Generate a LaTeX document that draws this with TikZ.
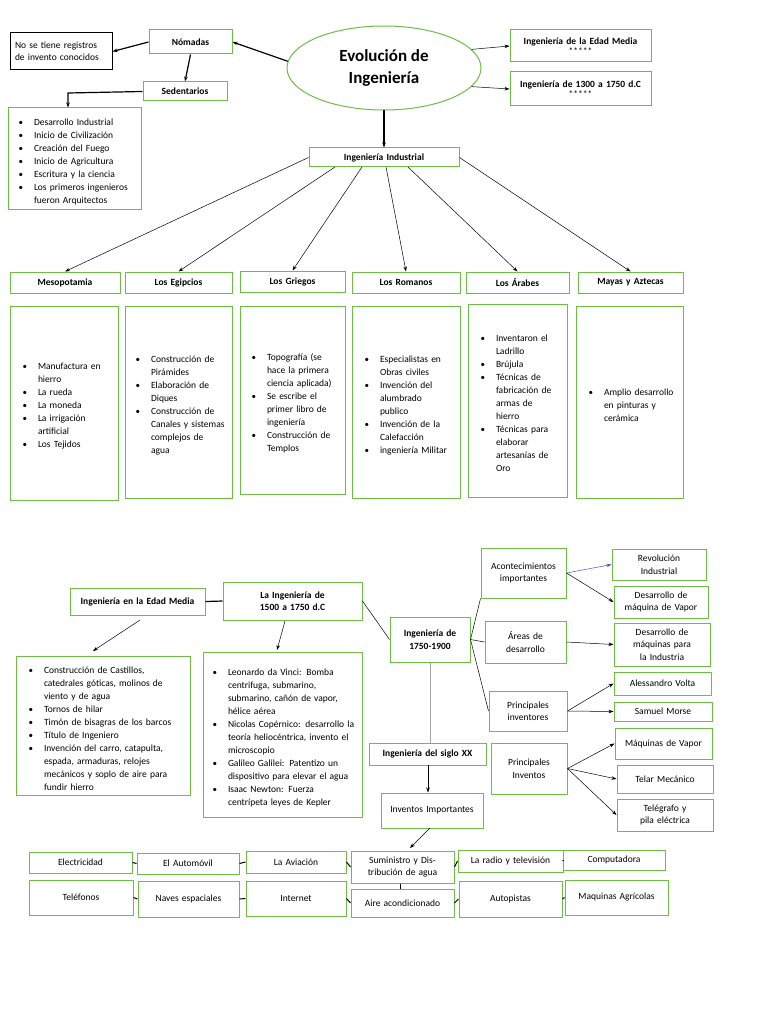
\documentclass[tikz,border=0pt]{standalone}
\usepackage{fontspec}
\setmainfont{Carlito}
\usepackage{enumitem}
\setlist[itemize]{nosep,leftmargin=19pt,labelsep=11pt,label={\small\textbullet}}
\usetikzlibrary{arrows.meta,shapes.geometric}
\definecolor{gb}{RGB}{110,190,70}
\tikzset{
 box/.style={draw=gb,line width=1pt,inner sep=3pt,align=center,font=\fontsize{9.5}{12.5}\selectfont},
 bbox/.style={box,font=\bfseries\fontsize{9.5}{12.5}\selectfont},
 lbox/.style={box,align=left,inner sep=4pt,font=\fontsize{9.5}{13}\selectfont},
 ar/.style={-{Stealth[length=5pt,width=3.5pt]},line width=0.5pt},
 tar/.style={ar,line width=1.2pt},
 ln/.style={line width=0.5pt},
}
\newcommand\bx[8]{%
 \pgfmathsetmacro\tw{#5-#3-#8}%
 \node[#1,minimum width={(#5-#3)*1pt},minimum height={(#6-#4)*1pt},text width=\tw pt] (#2) at ({(#3+#5)/2},{(#4+#6)/2}) {\hyphenpenalty=10000\exhyphenpenalty=10000#7};}
\newcommand\ls[1]{\raggedright\begin{itemize}#1\end{itemize}}
\begin{document}
\begin{tikzpicture}[x=1pt,y=-1pt]
\useasboundingbox (0,0) rectangle (768,1024);
\fill[white] (0,0) rectangle (768,1024);
% top
\bx{box,draw=black,align=left}{noreg}{10}{33}{112}{70}{No se tiene registros de invento conocidos}{10}
\bx{bbox}{nom}{149}{30}{232}{54}{Nómadas}{8}
\bx{bbox}{sed}{143}{82}{227}{101}{Sedentarios}{8}
\bx{lbox}{sedl}{8}{108}{141}{210}{\ls{\item Desarrollo Industrial\item Inicio de Civilización\item Creación del Fuego\item Inicio de Agricultura\item Escritura y la ciencia\item Los primeros ingenieros fueron Arquitectos}}{14}
\node[ellipse,draw=gb,line width=1pt,minimum width=194pt,minimum height=84pt,align=center,font=\bfseries\fontsize{17}{22}\selectfont] (ev) at (384,68) {Evolución de\\Ingeniería};
\bx{bbox}{em}{510}{30}{651}{62}{Ingeniería de la Edad Media\\[-3pt]\normalfont *****}{8}
\bx{bbox}{m13}{510}{72}{651}{106}{Ingeniería de 1300 a 1750 d.C\\[-3pt]\normalfont *****}{8}
\bx{bbox}{ind}{309}{148}{459}{167}{Ingeniería Industrial}{8}
\bx{bbox}{h1}{10}{272}{120}{293}{Mesopotamia}{8}
\bx{bbox}{h2}{125}{272}{232}{293}{Los Egipcios}{8}
\bx{bbox}{h3}{240}{271}{345}{292}{Los Griegos}{8}
\bx{bbox}{h4}{352}{272}{460}{293}{Los Romanos}{8}
\bx{bbox}{h5}{466}{272}{569}{293}{Los Árabes}{8}
\bx{bbox}{h6}{578}{272}{683}{293}{Mayas y Aztecas}{8}
\bx{lbox}{l1}{10}{306}{118}{500}{\ls{\item Manufactura en hierro\item La rueda\item La moneda\item La irrigación artificial\item Los Tejidos}}{18}
\bx{lbox}{l2}{125}{306}{232}{498}{\ls{\item Construcción de Pirámides\item Elaboración de Diques\item Construcción de Canales y sistemas complejos de agua}}{14}
\bx{lbox}{l3}{240}{306}{345}{494}{\ls{\item Topografía (se hace la primera ciencia aplicada)\item Se escribe el primer libro de ingeniería\item Construcción de Templos}}{16}
\bx{lbox}{l4}{352}{306}{460}{498}{\ls{\item Especialistas en Obras civiles\item Invención del alumbrado publico\item Invención de la Calefacción\item ingeniería Militar}}{18}
\bx{lbox}{l5}{468}{304}{567}{497}{\ls{\item Inventaron el Ladrillo\item Brújula\item Técnicas de fabricación de armas de hierro\item Técnicas para elaborar artesanías de Oro}}{18}
\bx{lbox}{l6}{576}{306}{683}{498}{\ls{\item Amplio desarrollo en pinturas y cerámica}}{18}
% top edges
\draw[tar] (ev.176) -- (nom.east);
\draw[tar] (nom.west) -- (noreg.east);
\draw[tar] (nom.south) -- (sed.north);
\draw[tar] (sed.west) -- (68,93) -- (sedl.north -| 68,0);
\draw[ar] (ev.12) -- (em.west);
\draw[ar] (ev.-12) -- (m13.west);
\draw[tar] (ev.south) -- (ind.north);
\draw[ar] (ind.west) -- (h1.north);
\draw[ar] (335,167) -- (h2.north);
\draw[ar] (362,167) -- (h3.north);
\draw[ar] (386,167) -- (h4.north);
\draw[ar] (408,167) -- (h5.north);
\draw[ar] (ind.east) -- (h6.north);
% bottom
\bx{bbox}{emd}{70}{588}{205}{615}{Ingeniería en la Edad Media}{8}
\bx{bbox}{q15}{223}{582}{362}{620}{La Ingeniería de 1500 a 1750 d.C}{14}
\bx{lbox}{eml}{16}{657}{190}{795}{\ls{\item Construcción de Castillos, catedrales góticas, molinos de viento y de agua\item Tornos de hilar\item Timón de bisagras de los barcos\item Título de Ingeniero\item Invención del carro, catapulta, espada, armaduras, relojes mecánicos y soplo de aire para fundir hierro}}{18}
\bx{lbox}{q15l}{203}{652}{362}{817}{\ls{\item Leonardo da Vinci: Bomba centrifuga, submarino, submarino, cañón de vapor, hélice aérea\item Nicolas Copérnico: desarrollo la teoría heliocéntrica, invento el microscopio\item Galileo Galilei: Patentizo un dispositivo para elevar el agua\item Isaac Newton: Fuerza centrípeta leyes de Kepler}}{12}
\bx{bbox}{s17}{390}{617}{470}{662}{Ingeniería de 1750-1900}{8}
\bx{box}{aco}{481}{548}{566}{598}{Acontecimientos importantes}{6}
\bx{box}{are}{485}{621}{566}{663}{Áreas de desarrollo}{20}
\bx{box}{pin}{489}{691}{567}{731}{Principales inventores}{8}
\bx{bbox}{sxx}{370}{743}{485}{765}{Ingeniería del siglo XX}{4}
\bx{box}{pit}{491}{743}{567}{794}{Principales Inventos}{8}
\bx{box}{inv}{382}{793}{482}{828}{Inventos Importantes}{4}
\bx{box}{rev}{612}{549}{706}{580}{Revolución Industrial}{30}
\bx{box}{mva}{614}{586}{708}{618}{Desarrollo de máquina de Vapor}{6}
\bx{box}{dmi}{615}{623}{709}{666}{Desarrollo de máquinas para la Industria}{4}
\bx{box}{vol}{615}{672}{710}{695}{Alessandro Volta}{4}
\bx{box}{mor}{615}{702}{711}{721}{Samuel Morse}{4}
\bx{box}{mv2}{616}{728}{711}{759}{Máquinas de Vapor}{4}
\bx{box}{tel}{618}{765}{712}{793}{Telar Mecánico}{4}
\bx{box}{tgr}{617}{799}{713}{831}{Telégrafo y pila eléctrica}{10}
\bx{box}{r1}{30}{852}{131}{873}{Electricidad}{4}
\bx{box}{r2}{138}{853}{238}{874}{El Automóvil}{4}
\bx{box}{r3}{247}{851}{345}{873}{La Aviación}{4}
\bx{box}{r4}{352}{851}{453}{883}{Suministro y Distribución de agua}{4}
\bx{box}{r5}{460}{850}{561}{872}{La radio y televisión}{2}
\bx{box}{r6}{564}{850}{664}{870}{Computadora}{4}
\bx{box}{t1}{30}{880}{132}{915}{Teléfonos}{4}
\bx{box}{t2}{139}{881}{238}{917}{Naves espaciales}{4}
\bx{box}{t3}{247}{881}{345}{916}{Internet}{4}
\bx{box}{t4}{352}{889}{453}{917}{Aire acondicionado}{4}
\bx{box}{t5}{460}{881}{561}{917}{Autopistas}{4}
\bx{box}{t6}{566}{880}{667}{915}{Maquinas Agrícolas}{4}
% bottom edges
\draw[line width=1.2pt] (emd.east) -- (q15.west);
\draw[ar] (140,620) -- (93,651);
\draw[ar] (285,621) -- (277,650);
\draw[ln] (q15.east) -- (s17.west);
\draw[ln] (s17.east) -- (aco.south west);
\draw[ln] (s17.east) -- (are.west);
\draw[ln] (s17.east) -- (pin.west);
\draw[line width=1pt,gray!70] (s17.south) -- (sxx.north -| s17.south);
\draw[ar] (428,765) -- (inv.north -| 428,0);
\draw[ar,blue!70] (aco.east) -- (rev.west);
\draw[ar] (aco.east) -- (mva.west);
\draw[ar] (are.east) -- (dmi.west);
\draw[ar] (pin.east) -- (vol.west);
\draw[ar] (pin.east) -- (mor.west);
\draw[ar] (pit.east) -- (mv2.west);
\draw[ar] (pit.east) -- (tel.west);
\draw[ar] (pit.east) -- (tgr.west);
\draw[ar] (430,828) -- (410,848);
\foreach \a/\b in {r1/r2,r2/r3,r3/r4,r4/r5,r5/r6,t1/t2,t2/t3,t3/t4,t4/t5,t5/t6}
  \draw[line width=1pt] (\a.east) -- (\b.west);
\draw[ln] (r4.south -| 400,0) -- (t4.north -| 400,0);
\end{tikzpicture}
\end{document}
